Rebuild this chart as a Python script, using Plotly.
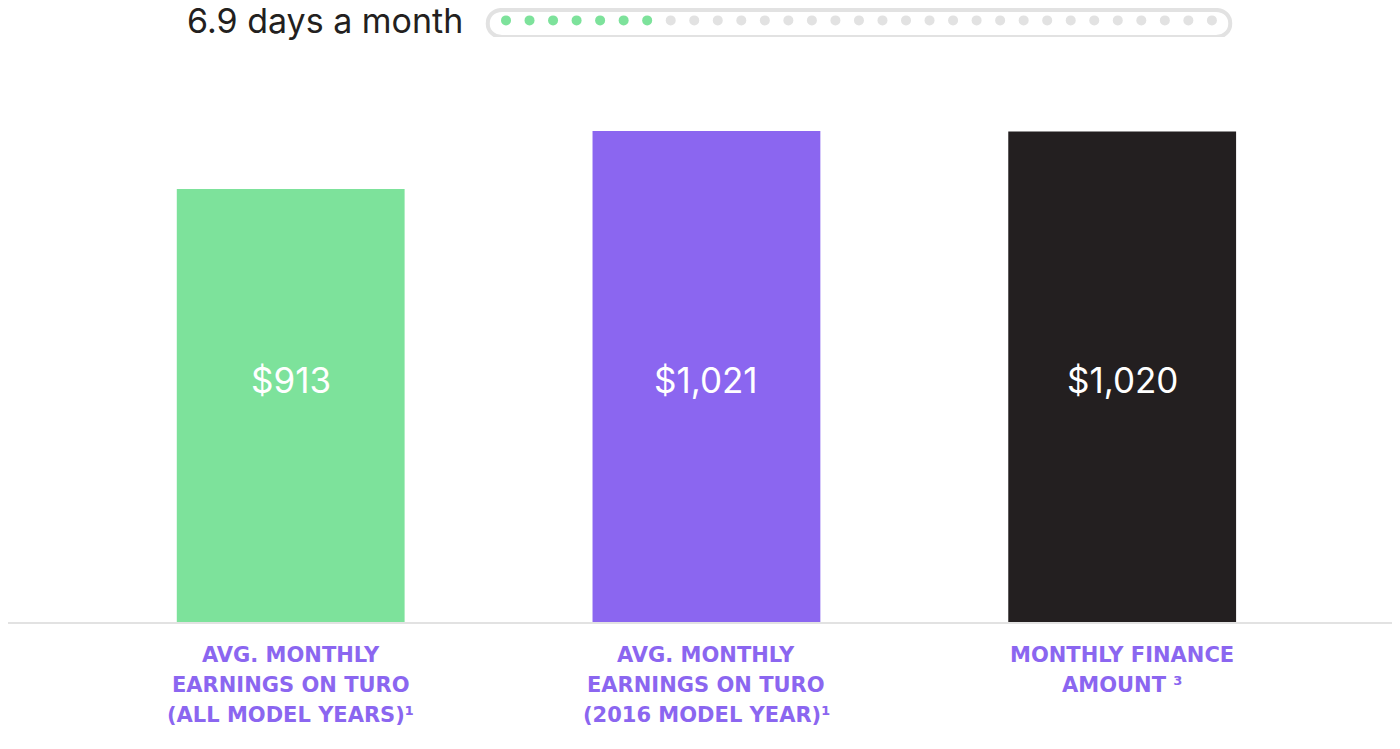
import plotly.graph_objects as go

category_lines = [["AVG. MONTHLY", "EARNINGS ON TURO", "(ALL MODEL YEARS)¹"],
                  ["AVG. MONTHLY", "EARNINGS ON TURO", "(2016 MODEL YEAR)¹"],
                  ["MONTHLY FINANCE", "AMOUNT ³"]]
values = [913, 1021, 1020]
value_labels = ["$913", "$1,021", "$1,020"]
colors = ["#7DE29B", "#8B66F0", "#231F20"]
days_total = 31
days_rented = 7
title_text = "6.9 days a month"

xs = [0, 1, 2]
fig = go.Figure()
fig.add_trace(go.Bar(x=xs, y=values, marker_color=colors, width=0.548,
                     marker_line_width=0, hoverinfo="skip"))

dot_x = [506 + i * 23.53 for i in range(days_total)]
dot_c = ["#7DE29B" if i < days_rented else "#E2E2E2" for i in range(days_total)]
fig.add_trace(go.Scatter(x=dot_x, y=[0.6] * days_total, mode="markers",
                         marker=dict(size=10, color=dot_c), xaxis="x2", yaxis="y2",
                         hoverinfo="skip"))

ymin = 103
H = 616.0
fig.update_layout(
    width=1400, height=749, margin=dict(l=0, r=0, t=0, b=133),
    paper_bgcolor="white", plot_bgcolor="white", showlegend=False,
    xaxis=dict(range=[-0.680, 2.6875], visible=False, domain=[0, 1]),
    yaxis=dict(range=[ymin, 1172], visible=False, domain=[0, 0.932]),
    xaxis2=dict(range=[8, 1408], visible=False, domain=[0, 1], anchor="y2"),
    yaxis2=dict(range=[0, 1.05], visible=False, domain=[0.953, 1.0], anchor="x2"),
)
r = 17
x0, x1, y0, y1 = 485, 1233, 0.0, 0.98
path = (f"M {x0+r},{y0} L {x1-r},{y0} C {x1+2},{y0} {x1+2},{y1} {x1-r},{y1} "
        f"L {x0+r},{y1} C {x0-2},{y1} {x0-2},{y0} {x0+r},{y0} Z")
fig.add_shape(type="path", path=path, xref="x2", yref="y2",
              line=dict(color="#E2E2E2", width=4), fillcolor="white", layer="below")
fig.add_shape(type="line", xref="paper", yref="y", x0=0, x1=1, y0=ymin, y1=ymin,
              line=dict(color="#E2E2E2", width=4))

fig.add_annotation(x=465, y=0.6, xref="x2", yref="y2", text=title_text, showarrow=False,
                   xanchor="right", font=dict(family="Inter", size=34, color="#231F20"))
for x, lab in zip(xs, value_labels):
    fig.add_annotation(x=x, y=(H - 372) / H, xref="x", yref="paper", text=lab,
                       showarrow=False, font=dict(family="Inter", size=35, color="white"))
line_y = [661, 691, 721]
for x, lines in zip(xs, category_lines):
    for ly, txt in zip(line_y, lines):
        fig.add_annotation(x=x, y=(H - ly) / H, xref="x", yref="paper", text=txt,
                           showarrow=False, align="center",
                           font=dict(family="DejaVu Sans", size=21, color="#8B66F0",
                                     weight="bold"))

fig.write_html("out.html")
